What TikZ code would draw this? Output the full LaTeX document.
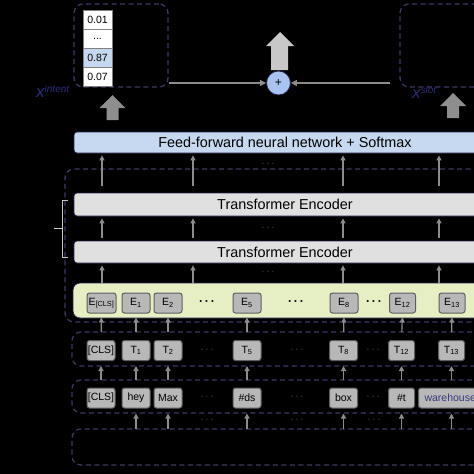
\documentclass[tikz,border=0pt]{standalone}
\usepackage{fontspec}
\setmainfont{Liberation Sans}
\usetikzlibrary{arrows.meta}
\definecolor{navy}{HTML}{3A3A66}
\definecolor{edgenavy}{HTML}{23234A}
\definecolor{lblnavy}{HTML}{2E2E78}
\definecolor{ffnblue}{HTML}{C6D9F1}
\definecolor{encgray}{HTML}{E0E0E0}
\definecolor{embgreen}{HTML}{E6EFC4}
\definecolor{tokfill}{HTML}{B8B8B8}
\definecolor{tokedge}{HTML}{5E5E5E}
\definecolor{arrowgray}{HTML}{8C8C8C}
\definecolor{blockgray}{HTML}{8E8E8E}
\definecolor{blocklight}{HTML}{C8C8C8}
\definecolor{plusblue}{HTML}{A9C4EE}
\definecolor{dotgray}{HTML}{505050}
\definecolor{cellblue}{HTML}{C5D8F0}
\definecolor{whtext}{HTML}{3A3A7A}
\begin{document}
\begin{tikzpicture}[x=1pt,y=-1pt,
  grp/.style={draw=navy, line width=1.3pt, dash pattern=on 5pt off 3.5pt, rounded corners=9pt, inner sep=0pt},
  layer/.style={draw=edgenavy, line width=0.8pt, rounded corners=3pt, font=\fontsize{14.4}{16}\selectfont, inner sep=0pt},
  tok/.style={draw=tokedge, line width=1pt, fill=tokfill, rounded corners=2.5pt, minimum width=28pt, minimum height=20pt, inner sep=0pt, font=\fontsize{10.5}{12}\selectfont},
  cell/.style={draw=gray, line width=0.8pt, fill=white, minimum width=29pt, minimum height=19pt, inner sep=0pt, font=\fontsize{10.5}{12}\selectfont},
  conn/.style={draw=arrowgray, line width=1.2pt, -{Triangle[length=5pt,width=5pt]}},
  faintdots/.style={text=dotgray, font=\fontsize{10}{12}\selectfont, inner sep=0pt},
  bolddots/.style={text=black, font=\fontsize{12}{12}\selectfont\bfseries, inner sep=0pt},
  lbl/.style={text=lblnavy, inner sep=0pt, anchor=base west, font=\fontsize{17}{17}\selectfont\itshape},
]
\useasboundingbox (0,0) rectangle (474,474);
\fill[black] (0,0) rectangle (474,474);
\clip (0,0) rectangle (474,474);

% ---- top: intent / slot ----
\node[grp, minimum width=94pt, minimum height=83pt] (intent) at (121,45.5) {};
\node[grp, minimum width=94pt, minimum height=83pt] (slot) at (447,45.5) {};
\node[cell] (v1) at (97.5,19.5) {0.01};
\node[cell] (v2) at (97.5,38.5) {...};
\node[cell, fill=cellblue] (v3) at (97.5,57.5) {0.87};
\node[cell] (v4) at (97.5,76.5) {0.07};
\node[lbl] (xint) at (36,97) {x\raisebox{5pt}{\fontsize{10}{10}\selectfont intent}};
\node[lbl] (xslot) at (412,98) {x\raisebox{5pt}{\fontsize{10}{10}\selectfont slot}};
\node[circle, draw=edgenavy, line width=0.8pt, fill=plusblue, minimum size=24pt, inner sep=0pt, font=\fontsize{12}{12}\selectfont] (plus) at (278.5,83) {+};
\draw[draw=arrowgray, line width=1.5pt, -{Triangle[length=6pt,width=6pt]}] (plus.west -| intent.east) -- (plus.west);
\draw[draw=arrowgray, line width=1.5pt, -{Triangle[length=6pt,width=6pt]}, shorten <=9pt] (plus.east -| slot.west) -- (plus.east);

% block arrows
\fill[blockgray] (112.5,95) -- (125.5,108) -- (118.5,108) -- (118.5,120) -- (106.5,120) -- (106.5,108) -- (99.5,108) -- cycle;
\fill[blockgray] (453,93) -- (466,106) -- (459,106) -- (459,118) -- (447,118) -- (447,106) -- (440,106) -- cycle;
\fill[blocklight] (280,32) -- (294,46) -- (288,46) -- (288,70) -- (271,70) -- (271,46) -- (266,46) -- cycle;

% ---- layers ----
\node[layer, fill=ffnblue, minimum width=422pt, minimum height=21pt] (ffn) at (285,142.5) {Feed-forward neural network + Softmax};
\node[grp, minimum width=440pt, minimum height=153pt] (encgrp) at (285,245.5) {};
\node[layer, fill=encgray, minimum width=422pt, minimum height=23pt] (enc1) at (285,204.5) {Transformer Encoder};
\node[layer, fill=encgray, minimum width=422pt, minimum height=22pt] (enc2) at (285,252) {Transformer Encoder};
\node[draw=edgenavy, line width=0.8pt, fill=embgreen, rounded corners=7pt, minimum width=424pt, minimum height=35pt, inner sep=0pt] (emb) at (285,300.5) {};

% bracket
\draw[blocklight, line width=1pt] (68,200) -- (62,200) -- (62,257) -- (68,257);
\draw[blocklight, line width=1pt] (62,228) -- (54,228);

% group boxes for rows
\node[grp, minimum width=426pt, minimum height=34pt] (trow) at (285,349) {};
\node[grp, minimum width=426pt, minimum height=33pt] (wrow) at (285,396.5) {};
\node[grp, minimum width=426pt, minimum height=36pt] (brow) at (285,447) {};

% embedding tokens
\node[tok, minimum width=29pt] (Ecls) at (101.5,303) {E\textsubscript{[CLS]}};
\node[tok] (E1) at (136,303) {E\textsubscript{1}};
\node[tok] (E2) at (168,303) {E\textsubscript{2}};
\node[tok] (E5) at (247,303) {E\textsubscript{5}};
\node[tok] (E8) at (344,303) {E\textsubscript{8}};
\node[tok, minimum width=26pt] (E12) at (402.5,303) {E\textsubscript{12}};
\node[tok, minimum width=26pt] (E13) at (452,303) {E\textsubscript{13}};
\node[bolddots] (ed1) at (207,303) {·\,·\,·};
\node[bolddots] (ed2) at (296,303) {·\,·\,·};
\node[bolddots] (ed3) at (374,303) {·\,·\,·};

% T tokens
\node[tok] (Tcls) at (101,350.5) {[CLS]};
\node[tok] (T1) at (136,350.5) {T\textsubscript{1}};
\node[tok] (T2) at (168,350.5) {T\textsubscript{2}};
\node[tok] (T5) at (247,350.5) {T\textsubscript{5}};
\node[tok] (T8) at (343.5,350.5) {T\textsubscript{8}};
\node[tok, minimum width=26pt] (T12) at (401.5,350.5) {T\textsubscript{12}};
\node[tok, minimum width=26pt] (T13) at (451.5,350.5) {T\textsubscript{13}};
\node[faintdots] (td1) at (207,351) {·\,·\,·};
\node[faintdots] (td2) at (297,351) {·\,·\,·};
\node[faintdots] (td3) at (373,351) {·\,·\,·};

% word tokens
\node[tok] (Wcls) at (101,398) {[CLS]};
\node[tok] (W1) at (136,398) {hey};
\node[tok] (W2) at (168,398) {Max};
\node[tok] (W5) at (247,398) {\#ds};
\node[tok] (W8) at (343.5,398) {box};
\node[tok, minimum width=26pt] (W12) at (401.5,398) {\#t};
\node[tok, anchor=west, inner xsep=6pt, text=whtext, minimum width=70pt, align=left] (W13) at (418,398) {warehouse\hspace{20pt}};
\node[faintdots] (wd1) at (207,398) {·\,·\,·};
\node[faintdots] (wd2) at (297,398) {·\,·\,·};
\node[faintdots] (wd3) at (373,398) {·\,·\,·};
\node[faintdots] (bd1) at (207,421) {·\,·\,·};
\node[faintdots] (bd2) at (297,421) {·\,·\,·};
\node[faintdots] (bd3) at (374,421) {·\,·\,·};

% encoder dots
\node[faintdots] (ld1) at (268,165) {·\,·\,·};
\node[faintdots] (ld2) at (268,229) {·\,·\,·};
\node[faintdots] (ld3) at (268,273) {·\,·\,·};

% ---- connectors ----
\coordinate (k1) at (102,0);
\coordinate (k2) at (193,0);
\coordinate (k3) at (343,0);
\coordinate (k4) at (439,0);
\foreach \k in {k1,k2,k3,k4}{
  \draw[conn, shorten >=2pt] (\k |- emb.north) -- (\k |- enc2.south);
  \draw[conn, shorten <=3pt, shorten >=2pt] (\k |- enc2.north) -- (\k |- enc1.south);
  \draw[conn, shorten <=7pt, shorten >=2pt] (\k |- enc1.north) -- (\k |- ffn.south);
}
\foreach \n in {cls,1,2,5,8,12,13}{
  \draw[conn, shorten <=8pt, shorten >=4pt] (T\n.north) -- (E\n.south);
}
\foreach \n in {cls,1,2,5,8,12}{
  \draw[conn, shorten <=8pt, shorten >=5pt] (W\n.north) -- (T\n.south);
}
\draw[conn, shorten <=8pt, shorten >=5pt] (W13.north -| T13) -- (T13.south);
\foreach \n/\x in {1/136,2/168,5/247,8/343.5,12/401.5}{
  \coordinate (B\n) at (\x,429);
  \draw[conn, shorten >=5pt] (B\n) -- (W\n.south);
}
\coordinate (B13) at (451.5,429);
\draw[conn, shorten >=5pt] (B13) -- (B13 |- W13.south);
\end{tikzpicture}
\end{document}
